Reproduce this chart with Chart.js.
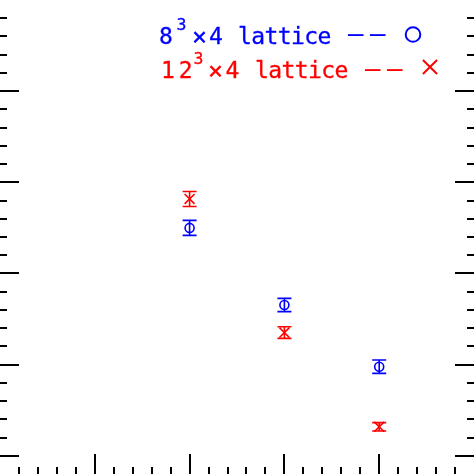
<!DOCTYPE html>
<html>
<head>
<meta charset="utf-8">
<script src="https://cdn.jsdelivr.net/npm/chart.js@4.4.1/dist/chart.umd.min.js"></script>
<style>
  html, body { margin: 0; padding: 0; background: #fff; }
  #chart { display: block; }
</style>
</head>
<body>
<canvas id="chart" width="474" height="474"></canvas>
<script>
// axis ticks (labels are outside the visible crop)
const xMajor = [1, 2, 3, 4]
const yMajor = [0, 1, 2, 3, 4]
const minorPerMajor = 5

// data
const xValues = [2, 3, 4]
const blueY = [2.50, 1.654, 0.977]
const blueErr = [0.082, 0.073, 0.073]
const redY = [2.817, 1.352, 0.318]
const redErr = [0.082, 0.064, 0.046]

const legendLabels = ['8³×4 lattice', '12³×4 lattice']
const seriesColors = ['#0000ff', '#ff0000']
const seriesMarkers = ['circle', 'crossRot']

const context = document.getElementById('chart').getContext('2d')

// inward tick marks on left, right and bottom
const frameTicks = {
    id: 'frameTicks',
    afterDraw(chart) {
        const { ctx, chartArea: a, scales: { x, y } } = chart
        ctx.save()
        ctx.strokeStyle = '#000'
        ctx.lineWidth = 2
        const isMajor = (v, list) => list.some(m => Math.abs(m - v) < 1e-6)

        const nx = Math.round((x.max - x.min) * minorPerMajor)
        for (let i = 1; i < nx; i++) {
            const v = x.min + i / minorPerMajor
            const px = Math.round(x.getPixelForValue(v))
            const len = isMajor(v, xMajor) ? 20 : 7
            ctx.beginPath()
            ctx.moveTo(px, a.bottom)
            ctx.lineTo(px, a.bottom - len)
            ctx.stroke()
        }

        const ny = Math.round((y.max - y.min) * minorPerMajor)
        for (let i = 1; i < ny; i++) {
            const v = y.min + i / minorPerMajor
            const py = Math.round(y.getPixelForValue(v))
            const len = isMajor(v, yMajor) ? 19 : 7
            ctx.beginPath()
            ctx.moveTo(a.left, py)
            ctx.lineTo(a.left + len, py)
            ctx.moveTo(a.right, py)
            ctx.lineTo(a.right - len, py)
            ctx.stroke()
        }
        ctx.restore()
    }
}

// vertical error bars with caps
const errorBars = {
    id: 'errorBars',
    afterDatasetsDraw(chart) {
        const { ctx, scales: { x, y } } = chart
        ctx.save()
        chart.data.datasets.forEach(ds => {
            ctx.strokeStyle = ds.borderColor
            ctx.lineWidth = 1.6
            ds.data.forEach((p, i) => {
                const px = x.getPixelForValue(p.x)
                const top = y.getPixelForValue(p.y + ds.errors[i])
                const bottom = y.getPixelForValue(p.y - ds.errors[i])
                ctx.beginPath()
                ctx.moveTo(px, top)
                ctx.lineTo(px, bottom)
                ctx.moveTo(px - 7, top)
                ctx.lineTo(px + 7, top)
                ctx.moveTo(px - 7, bottom)
                ctx.lineTo(px + 7, bottom)
                ctx.stroke()
            })
        })
        ctx.restore()
    }
}

// legend in the upper right: "8³×4 lattice -- o"
const legendLayout = [
    { baseline: 44, base: 159, baseSpacing: 0, sup: 176.5, times: 192, four: 209, word: 238, dashes: 348, dashY: 35.3, mx: 413, my: 34.5 },
    { baseline: 78, base: 161, baseSpacing: 4, sup: 193.5, times: 208, four: 225.5, word: 255, dashes: 365, dashY: 70, mx: 430, my: 67 }
]

const FONT = '"DejaVu Sans Mono"'

const drawText = (ctx, text, x, y) => {
    ctx.fillText(text, x, y)
    ctx.strokeText(text, x, y)
}

// a glyph placed by its visible left edge and vertical centre
const drawGlyph = (ctx, ch, left, cy, size) => {
    ctx.save()
    ctx.letterSpacing = '0px'
    ctx.font = size + 'px ' + FONT
    const m = ctx.measureText(ch)
    const mid = (m.actualBoundingBoxAscent - m.actualBoundingBoxDescent) / 2
    drawText(ctx, ch, left + m.actualBoundingBoxLeft, cy + mid)
    ctx.restore()
}

// one hyphen stretched to the given width, centred on y
const drawDash = (ctx, x0, y, width) => {
    ctx.save()
    ctx.letterSpacing = '0px'
    ctx.font = '23px ' + FONT
    const m = ctx.measureText('-')
    const w = m.actualBoundingBoxLeft + m.actualBoundingBoxRight
    const mid = (m.actualBoundingBoxAscent - m.actualBoundingBoxDescent) / 2
    const sx = width / w
    ctx.translate(x0 + m.actualBoundingBoxLeft * sx, y + mid)
    ctx.scale(sx, 1)
    ctx.fillText('-', 0, 0)
    ctx.restore()
}

const legendText = {
    id: 'legendText',
    afterDraw(chart) {
        const ctx = chart.ctx
        legendLabels.forEach((label, i) => {
            const p = legendLayout[i]
            const [base, rest] = label.split('³')
            const [dims, word] = rest.trim().split(' ')
            ctx.save()
            ctx.fillStyle = seriesColors[i]
            ctx.strokeStyle = seriesColors[i]
            ctx.lineWidth = 0.3
            ctx.textBaseline = 'alphabetic'
            ctx.font = '23px ' + FONT
            ctx.letterSpacing = p.baseSpacing + 'px'
            drawText(ctx, base, p.base, p.baseline)
            ctx.letterSpacing = '0px'
            drawGlyph(ctx, dims[0], p.times + 1, p.baseline - 7, 25)
            drawText(ctx, dims.slice(1), p.four, p.baseline)
            ctx.letterSpacing = '-0.6px'
            drawText(ctx, word, p.word, p.baseline)
            ctx.font = '16.5px ' + FONT
            ctx.letterSpacing = '0px'
            drawText(ctx, '3', p.sup, p.baseline - 14)

            drawDash(ctx, p.dashes, p.dashY, 16)
            drawDash(ctx, p.dashes + 22, p.dashY, 16)

            ctx.fillStyle = 'rgba(0,0,0,0)'
            ctx.lineWidth = 2
            Chart.helpers.drawPoint(ctx, {
                pointStyle: seriesMarkers[i],
                radius: i === 0 ? 7.3 : 10,
                borderWidth: 2
            }, p.mx, p.my)
            ctx.restore()
        })
    }
}

const chart = new Chart(context, {
    type: 'scatter',
    data: {
        datasets: [
            {
                label: legendLabels[0],
                data: xValues.map((x, i) => ({ x: x, y: blueY[i] })),
                errors: blueErr,
                pointStyle: seriesMarkers[0],
                pointRadius: 4.5,
                borderColor: seriesColors[0],
                backgroundColor: 'rgba(0,0,0,0)',
                borderWidth: 1.6
            },
            {
                label: legendLabels[1],
                data: xValues.map((x, i) => ({ x: x, y: redY[i] })),
                errors: redErr,
                pointStyle: seriesMarkers[1],
                pointRadius: 7,
                borderColor: seriesColors[1],
                backgroundColor: 'rgba(0,0,0,0)',
                borderWidth: 1.6
            }
        ]
    },
    options: {
        responsive: false,
        animation: false,
        devicePixelRatio: 1,
        layout: { padding: 0, autoPadding: false },
        plugins: {
            legend: { display: false },
            tooltip: { enabled: false }
        },
        scales: {
            x: { type: 'linear', min: 0, max: 5, display: false },
            y: { type: 'linear', min: -0.2, max: 5, display: false }
        }
    },
    plugins: [frameTicks, errorBars, legendText]
})
</script>
</body>
</html>
